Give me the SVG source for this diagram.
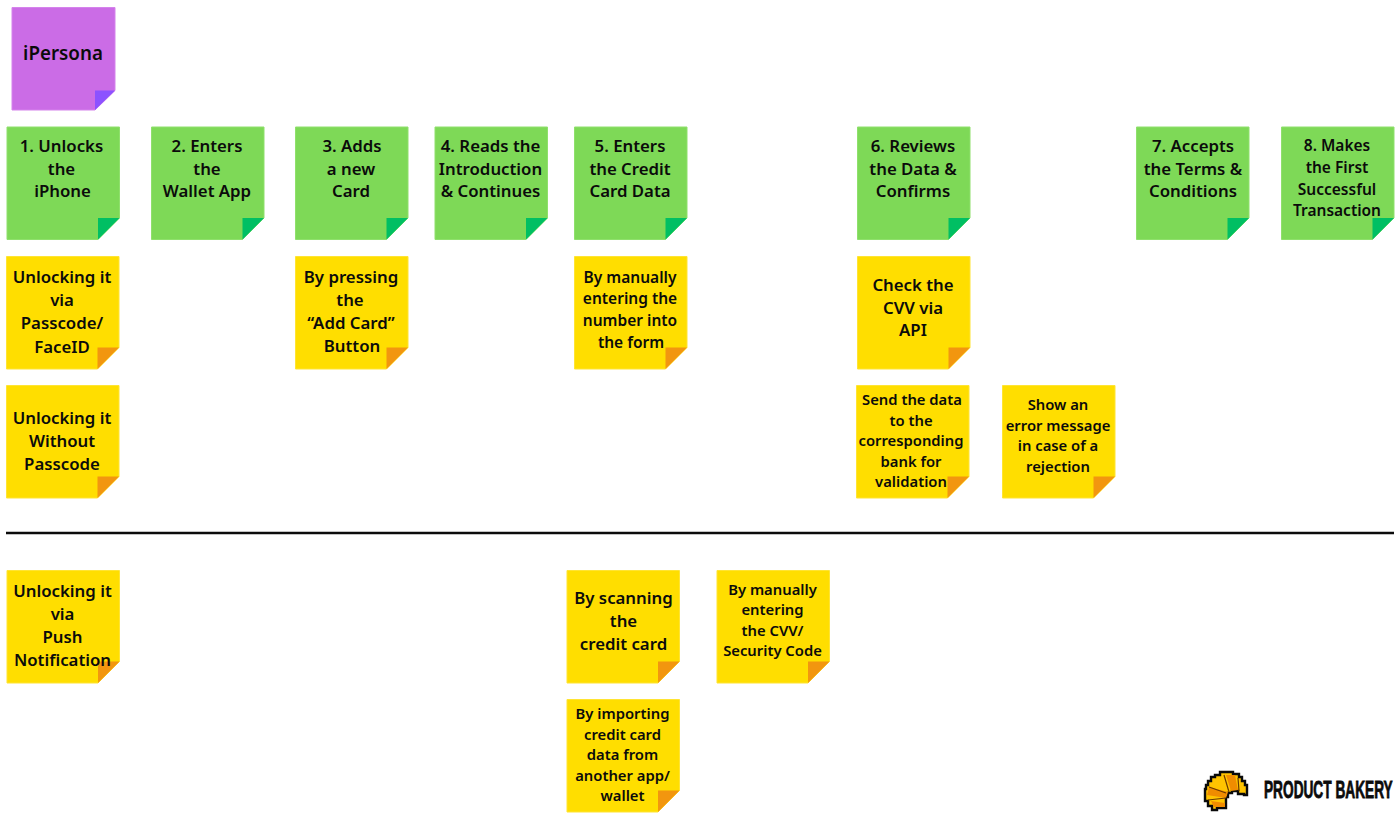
<svg xmlns="http://www.w3.org/2000/svg" width="1400" height="818" viewBox="0 0 1400 818">
<style>
text{font-family:"Noto Sans","Open Sans","Liberation Sans",sans-serif;font-weight:600;fill:#0b0b0b;text-anchor:middle}
.l{font-size:16.800px}.m{font-size:15.500px}.s{font-size:14.800px}
.gb{fill:#7ed957;stroke:#8fe06c}.gf{fill:#00bf63}
.yb{fill:#ffde00;stroke:#ffe433}.yf{fill:#f2960f}
</style>
<defs>
<g id="green"><path class="gb" d="M0.500 0.500H113V91.500L91.500 113H0.500Z"/><path class="gf" d="M91.500 113V91.500H113Z"/></g>
<g id="yellow"><path class="yb" d="M0.500 0.500H113V91.500L91.500 113H0.500Z"/><path class="yf" d="M91.500 113V91.500H113Z"/></g>
</defs>
<rect width="1400" height="818" fill="#fff"/>
<g id="persona"><path d="M12 7.500H115V90.500L95 110H12Z" fill="#cb6ce6" stroke="#d583ec"/><path d="M95 110V90.500H115Z" fill="#8c52ff"/><text x="63" y="60" font-size="18.800">iPersona</text></g>
<g id="step1" transform="translate(6.500 126.500)"><use href="#green"/><text class="l" x="55" y="25">1. Unlocks</text><text class="l" x="55" y="48">the</text><text class="l" x="56" y="70">iPhone</text></g>
<g id="step2" transform="translate(151 126.500)"><use href="#green"/><text class="l" x="56" y="25">2. Enters</text><text class="l" x="56" y="48">the</text><text class="l" x="56" y="70">Wallet App</text></g>
<g id="step3" transform="translate(295 126.500)"><use href="#green"/><text class="l" x="57" y="25">3. Adds</text><text class="l" x="56" y="48">a new</text><text class="l" x="56" y="70">Card</text></g>
<g id="step4" transform="translate(434.500 126.500)"><use href="#green"/><text class="l" x="56" y="25">4. Reads the</text><text class="l" x="56" y="48">Introduction</text><text class="l" x="56" y="70">&amp; Continues</text></g>
<g id="step5" transform="translate(574 126.500)"><use href="#green"/><text class="l" x="56" y="25">5. Enters</text><text class="l" x="56" y="48">the Credit</text><text class="l" x="56" y="70">Card Data</text></g>
<g id="step6" transform="translate(857 126.500)"><use href="#green"/><text class="l" x="56" y="25">6. Reviews</text><text class="l" x="56" y="48">the Data &amp;</text><text class="l" x="56" y="70">Confirms</text></g>
<g id="step7" transform="translate(1136 126.500)"><use href="#green"/><text class="l" x="57" y="25">7. Accepts</text><text class="l" x="57" y="48">the Terms &amp;</text><text class="l" x="57" y="70">Conditions</text></g>
<g id="step8" transform="translate(1281 126.500)"><use href="#green"/><text class="m" x="56" y="24">8. Makes</text><text class="m" x="56" y="46">the First</text><text class="m" x="56" y="68">Successful</text><text class="m" x="56" y="89">Transaction</text></g>
<g id="unlock-passcode" transform="translate(6 256)"><use href="#yellow"/><text class="l" x="56" y="27">Unlocking it</text><text class="l" x="56" y="50">via</text><text class="l" x="56" y="73">Passcode/</text><text class="l" x="56" y="97">FaceID</text></g>
<g id="add-card-button" transform="translate(295 256)"><use href="#yellow"/><text class="l" x="56" y="27">By pressing</text><text class="l" x="55" y="50">the</text><text class="l" x="56" y="73">“Add Card”</text><text class="l" x="57" y="96">Button</text></g>
<g id="manual-number" transform="translate(574 256)"><use href="#yellow"/><text class="m" x="56" y="27">By manually</text><text class="m" x="56" y="48">entering the</text><text class="m" x="56" y="70">number into</text><text class="m" x="57" y="92">the form</text></g>
<g id="check-cvv" transform="translate(857 256)"><use href="#yellow"/><text class="l" x="56" y="35">Check the</text><text class="l" x="56" y="58">CVV via</text><text class="l" x="56" y="80">API</text></g>
<g id="unlock-no-passcode" transform="translate(6 385)"><use href="#yellow"/><text class="l" x="56" y="39">Unlocking it</text><text class="l" x="56" y="62">Without</text><text class="l" x="56" y="85">Passcode</text></g>
<g id="send-bank" transform="translate(856 385)"><use href="#yellow"/><text class="s" x="56" y="20">Send the data</text><text class="s" x="55" y="41">to the</text><text class="s" x="55" y="61">corresponding</text><text class="s" x="55" y="82">bank for</text><text class="s" x="55" y="102">validation</text></g>
<g id="error-message" transform="translate(1002 385)"><use href="#yellow"/><text class="s" x="56" y="25">Show an</text><text class="s" x="56" y="46">error message</text><text class="s" x="56" y="66">in case of a</text><text class="s" x="56" y="87">rejection</text></g>
<g id="divider"><path d="M6 533H1394" stroke="#0b0b0b" stroke-width="2.500" fill="none"/></g>
<g id="unlock-push" transform="translate(6.500 570)"><use href="#yellow"/><text class="l" x="56" y="27">Unlocking it</text><text class="l" x="56" y="50">via</text><text class="l" x="56" y="73">Push</text><text class="l" x="56" y="96">Notification</text></g>
<g id="scan-card" transform="translate(566.500 570)"><use href="#yellow"/><text class="l" x="57" y="34">By scanning</text><text class="l" x="57" y="57">the</text><text class="l" x="57" y="80">credit card</text></g>
<g id="manual-cvv" transform="translate(716.500 570)"><use href="#yellow"/><text class="s" x="56" y="25">By manually</text><text class="s" x="56" y="45">entering</text><text class="s" x="56" y="66">the CVV/</text><text class="s" x="56" y="86">Security Code</text></g>
<g id="import-card" transform="translate(566.500 699)"><use href="#yellow"/><text class="s" x="56" y="20">By importing</text><text class="s" x="56" y="41">credit card</text><text class="s" x="56" y="61">data from</text><text class="s" x="56" y="82">another app/</text><text class="s" x="56" y="102">wallet</text></g>
<g id="logo">
<path d="M1220 772H1233V774H1239V777H1242V781H1245V785H1247V795H1244V794H1238V791H1232V793H1228V797H1226V808H1217V810H1212V806H1208V801H1205V789H1206V785H1208V781H1211V777H1215V775H1220Z" fill="#ffc400" stroke="#0a0a0a" stroke-width="2.400"/>
<path d="M1226 775L1231 791L1238 790L1235 775ZM1207 795L1226 798L1228 792L1209 787ZM1211 801L1225 803V807H1214Z" fill="#f08c00"/>
<path d="M1224 775L1229 792M1209 787L1226 793M1208 800L1226 798M1238 778L1239 791" stroke="#6b3a00" stroke-width="1.200" fill="none"/>
<text transform="translate(1264 798) scale(.595 1)" font-size="23" style="font-family:'Liberation Sans',sans-serif;font-weight:700;text-anchor:start;stroke:#0b0b0b;stroke-width:.8">PRODUCT BAKERY</text>
</g>
</svg>
